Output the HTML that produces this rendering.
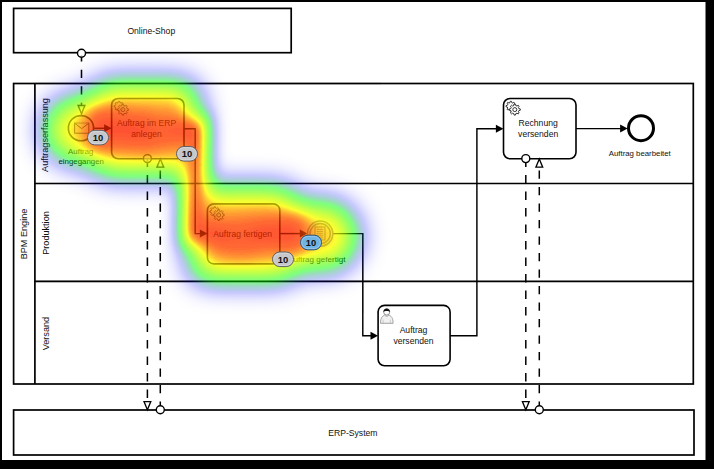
<!DOCTYPE html>
<html><head><meta charset="utf-8"><style>
html,body{margin:0;padding:0;background:#000;}
svg{display:block}
.pool{fill:none;stroke:#000;stroke-width:1.7}
.ln{stroke:#000;stroke-width:1.7}
.task{fill:#fff;stroke:#000;stroke-width:1.6}
.seq{fill:none;stroke:#000;stroke-width:1.45}
.ah{fill:#000}
.dash{stroke:#000;stroke-width:1.5;stroke-dasharray:8.4 8.1}
.tri{fill:#fff;stroke:#000;stroke-width:1.3}
.mcirc{fill:#fff;stroke:#000;stroke-width:1.4}
.ev{fill:#fff;stroke:#000;stroke-width:1.6}
.ev2{fill:none;stroke:#6a6a6a;stroke-width:1.5}
.end{fill:#fff;stroke:#000;stroke-width:3}
.env{fill:#fff;stroke:#222;stroke-width:1.0}
.doc{fill:#f4f4f4;stroke:#555;stroke-width:0.9}
.docl{stroke:#555;stroke-width:0.7}
.gear{fill:#fff;stroke:#2a2a2a;stroke-width:0.95;stroke-linejoin:round}
text{font-family:"Liberation Sans",sans-serif;fill:#111}
.lbl{text-anchor:middle}
.lbl0{font-size:8.6px}
.ov .task,.ov .ev,.ov .mcirc,.ov .tri,.ov .env,.ov .doc,.ov .gear{fill:none}
</style></head><body>
<svg width="714" height="469" viewBox="0 0 714 469">
<defs>
<filter id="blurT" filterUnits="userSpaceOnUse" x="0" y="0" width="714" height="469"><feGaussianBlur stdDeviation="14"/></filter>
<filter id="blurC" filterUnits="userSpaceOnUse" x="0" y="0" width="714" height="469"><feGaussianBlur stdDeviation="8.5"/></filter>
<filter id="heat" filterUnits="userSpaceOnUse" x="0" y="0" width="714" height="469" color-interpolation-filters="sRGB">
<feComponentTransfer in="SourceGraphic"><feFuncA type="linear" slope="0.98" intercept="0"/></feComponentTransfer>
<feColorMatrix type="matrix" values="0 0 0 1 0  0 0 0 1 0  0 0 0 1 0  0 0 0 1 0"/>
<feComponentTransfer>
<feFuncR type="table" tableValues="0.0000 0.0000 0.0000 0.0000 0.0000 0.0000 0.0000 0.0000 0.0000 0.0000 0.0000 0.0000 0.0000 0.0000 0.0000 0.0000 0.0000 0.0000 0.0000 0.0000 0.0000 0.0000 0.0000 0.0000 0.0000 0.0000 0.0000 0.0000 0.0000 0.0000 0.0000 0.0000 0.0000 0.0000 0.0000 0.0000 0.0417 0.0937 0.1458 0.1979 0.2500 0.3021 0.3542 0.4062 0.4583 0.5104 0.5625 0.6146 0.6667 0.7188 0.7708 0.8229 0.8750 0.9271 0.9792 1.0000 1.0000 1.0000 1.0000 1.0000 1.0000 1.0000 1.0000 1.0000 1.0000"/>
<feFuncG type="table" tableValues="0.0000 0.0000 0.0000 0.0000 0.0000 0.0000 0.0000 0.0000 0.0000 0.0000 0.0000 0.0000 0.0000 0.0000 0.0000 0.0000 0.0000 0.0521 0.1042 0.1562 0.2083 0.2604 0.3125 0.3646 0.4167 0.4687 0.5208 0.5729 0.6250 0.6771 0.7292 0.7812 0.8333 0.8854 0.9375 0.9896 1.0000 1.0000 1.0000 1.0000 1.0000 1.0000 1.0000 1.0000 1.0000 1.0000 1.0000 1.0000 1.0000 1.0000 1.0000 1.0000 1.0000 1.0000 1.0000 0.9375 0.8333 0.7292 0.6250 0.5208 0.4167 0.3125 0.2083 0.1042 0.0000"/>
<feFuncB type="table" tableValues="1.0000 1.0000 1.0000 1.0000 1.0000 1.0000 1.0000 1.0000 1.0000 1.0000 1.0000 1.0000 1.0000 1.0000 1.0000 1.0000 1.0000 0.9479 0.8958 0.8438 0.7917 0.7396 0.6875 0.6354 0.5833 0.5312 0.4792 0.4271 0.3750 0.3229 0.2708 0.2188 0.1667 0.1146 0.0625 0.0104 0.0000 0.0000 0.0000 0.0000 0.0000 0.0000 0.0000 0.0000 0.0000 0.0000 0.0000 0.0000 0.0000 0.0000 0.0000 0.0000 0.0000 0.0000 0.0000 0.0000 0.0000 0.0000 0.0000 0.0000 0.0000 0.0000 0.0000 0.0000 0.0000"/>
<feFuncA type="table" tableValues="0.0000 0.0084 0.0186 0.0296 0.0412 0.0533 0.0657 0.0785 0.0915 0.1048 0.1183 0.1320 0.1459 0.1599 0.1742 0.1885 0.2031 0.2177 0.2325 0.2474 0.2625 0.2776 0.2929 0.3082 0.3237 0.3393 0.3549 0.3706 0.3865 0.4024 0.4184 0.4345 0.4506 0.4669 0.4832 0.4995 0.5160 0.5325 0.5491 0.5657 0.5825 0.5992 0.6161 0.6330 0.6499 0.6669 0.6840 0.7011 0.7183 0.7356 0.7529 0.7702 0.7876 0.8000 0.8000 0.8000 0.8000 0.8000 0.8000 0.8000 0.8000 0.8000 0.8000 0.8000 0.8000"/>
</feComponentTransfer>
</filter>
</defs>
<rect x="2" y="2" width="703.5" height="458" fill="#fff"/>
<rect x="13.6" y="8.4" width="277.6" height="44.3" class="pool"/><text x="151.3" y="33.9" text-anchor="middle" class="lbl0">Online-Shop</text><rect x="13.6" y="83.5" width="679.7" height="300.5" class="pool"/><line x1="34.9" y1="83.5" x2="34.9" y2="384" class="ln"/><line x1="34.9" y1="183.5" x2="693.3" y2="183.5" class="ln"/><line x1="34.9" y1="281.3" x2="693.3" y2="281.3" class="ln"/><text transform="translate(26.8,234) rotate(-90)" x="0" y="0" text-anchor="middle" class="lbl0" style="font-size:9.1px">BPM Engine</text><text transform="translate(48.3,135) rotate(-90)" x="0" y="0" text-anchor="middle" class="lbl0" style="font-size:9.1px">Auftragserfassung</text><text transform="translate(48.5,233) rotate(-90)" x="0" y="0" text-anchor="middle" class="lbl0" style="font-size:9.1px">Produktion</text><text transform="translate(48.8,333.6) rotate(-90)" x="0" y="0" text-anchor="middle" class="lbl0" style="font-size:9.1px">Versand</text><rect x="13.6" y="410" width="680.4" height="45" class="pool"/><text x="352.9" y="435.6" text-anchor="middle" class="lbl0">ERP-System</text><path d="M93.6,128.3 H105" class="seq"/><path d="M111.6,128.3 L104.1,124.30000000000001 L104.1,132.3Z" class="ah"/><path d="M184,128.8 H195.2 V233.6 H201" class="seq"/><path d="M207.4,233.6 L199.9,229.6 L199.9,237.6Z" class="ah"/><path d="M279.8,233.6 H301" class="seq"/><path d="M307.3,233.6 L299.8,229.6 L299.8,237.6Z" class="ah"/><path d="M332.7,233.6 H362.8 V335.8 H371" class="seq"/><path d="M378,335.8 L370.5,331.8 L370.5,339.8Z" class="ah"/><path d="M450,335.8 H476.9 V128.8 H497" class="seq"/><path d="M503.4,128.8 L495.9,124.80000000000001 L495.9,132.8Z" class="ah"/><path d="M576,128.6 H621" class="seq"/><path d="M627.6,128.6 L620.1,124.6 L620.1,132.6Z" class="ah"/><circle cx="81" cy="128.2" r="12.6" class="ev"/><rect x="74.6" y="123.2" width="14.2" height="10" class="env"/><path d="M74.6,123.2 L81.7,128.6 L88.8,123.2" class="env"/><text x="80.8" y="154.3" class="lbl" style="font-size:7.9px">Auftrag</text><text x="81.2" y="163.6" class="lbl" style="font-size:7.9px">eingegangen</text><rect x="111.6" y="98.5" width="72.4" height="60.3" rx="6.5" class="task"/><path d="M118.39,101.34 L119.61,101.34 L119.86,102.60 L120.93,103.05 L122.00,102.33 L122.87,103.20 L122.15,104.27 L122.60,105.34 L123.86,105.59 L123.86,106.81 L122.60,107.06 L122.15,108.13 L122.87,109.20 L122.00,110.07 L120.93,109.35 L119.86,109.80 L119.61,111.06 L118.39,111.06 L118.14,109.80 L117.07,109.35 L116.00,110.07 L115.13,109.20 L115.85,108.13 L115.40,107.06 L114.14,106.81 L114.14,105.59 L115.40,105.34 L115.85,104.27 L115.13,103.20 L116.00,102.33 L117.07,103.05 L118.14,102.60Z" class="gear"/><path d="M122.21,104.14 L123.59,104.14 L123.88,105.52 L125.09,106.02 L126.27,105.25 L127.25,106.23 L126.48,107.41 L126.98,108.62 L128.36,108.91 L128.36,110.29 L126.98,110.58 L126.48,111.79 L127.25,112.97 L126.27,113.95 L125.09,113.18 L123.88,113.68 L123.59,115.06 L122.21,115.06 L121.92,113.68 L120.71,113.18 L119.53,113.95 L118.55,112.97 L119.32,111.79 L118.82,110.58 L117.44,110.29 L117.44,108.91 L118.82,108.62 L119.32,107.41 L118.55,106.23 L119.53,105.25 L120.71,106.02 L121.92,105.52Z" class="gear"/><circle cx="122.89999999999999" cy="109.6" r="2.0" class="gear"/><text x="146.60000000000002" y="125.7" class="lbl" style="font-size:8.6px">Auftrag im ERP</text><text x="146.60000000000002" y="136.6" class="lbl" style="font-size:8.6px">anlegen</text><rect x="207.4" y="203.9" width="72.4" height="60.0" rx="6.5" class="task"/><path d="M214.19,206.74 L215.41,206.74 L215.66,208.00 L216.73,208.45 L217.80,207.73 L218.67,208.60 L217.95,209.67 L218.40,210.74 L219.66,210.99 L219.66,212.21 L218.40,212.46 L217.95,213.53 L218.67,214.60 L217.80,215.47 L216.73,214.75 L215.66,215.20 L215.41,216.46 L214.19,216.46 L213.94,215.20 L212.87,214.75 L211.80,215.47 L210.93,214.60 L211.65,213.53 L211.20,212.46 L209.94,212.21 L209.94,210.99 L211.20,210.74 L211.65,209.67 L210.93,208.60 L211.80,207.73 L212.87,208.45 L213.94,208.00Z" class="gear"/><path d="M218.01,209.54 L219.39,209.54 L219.68,210.92 L220.89,211.42 L222.07,210.65 L223.05,211.63 L222.28,212.81 L222.78,214.02 L224.16,214.31 L224.16,215.69 L222.78,215.98 L222.28,217.19 L223.05,218.37 L222.07,219.35 L220.89,218.58 L219.68,219.08 L219.39,220.46 L218.01,220.46 L217.72,219.08 L216.51,218.58 L215.33,219.35 L214.35,218.37 L215.12,217.19 L214.62,215.98 L213.24,215.69 L213.24,214.31 L214.62,214.02 L215.12,212.81 L214.35,211.63 L215.33,210.65 L216.51,211.42 L217.72,210.92Z" class="gear"/><circle cx="218.70000000000002" cy="215.0" r="2.0" class="gear"/><text x="242.70000000000002" y="237.3" class="lbl" style="font-size:8.6px">Auftrag fertigen</text><rect x="378.1" y="305.4" width="72.0" height="60.4" rx="6.5" class="task"/><path d="M380.5,323.29999999999995 C380.5,317.4 382.70000000000005,316.0 384.70000000000005,315.0 C385.70000000000005,316.59999999999997 387.90000000000003,316.59999999999997 388.90000000000003,315.0 C390.90000000000003,316.0 393.1,317.4 393.1,323.29999999999995Z" fill="#f2f2f2" stroke="#8a8a8a" stroke-width="0.8"/><circle cx="386.70000000000005" cy="311.9" r="3.1" fill="#ffffff" stroke="#555" stroke-width="0.6"/><path d="M383.40000000000003,312.2 C383.1,307.09999999999997 390.30000000000007,307.09999999999997 390.00000000000006,312.2 C389.30000000000007,310.5 384.1,310.5 383.40000000000003,312.2Z" fill="#111"/><path d="M383.1,323.29999999999995 V319.59999999999997 M390.3,323.29999999999995 V319.59999999999997" stroke="#b0b0b0" stroke-width="0.6"/><text x="413.5" y="332.9" class="lbl" style="font-size:8.6px">Auftrag</text><text x="413.5" y="343.6" class="lbl" style="font-size:8.6px">versenden</text><rect x="503.5" y="98.5" width="72.5" height="60.3" rx="6.5" class="task"/><path d="M510.29,101.34 L511.51,101.34 L511.76,102.60 L512.83,103.05 L513.90,102.33 L514.77,103.20 L514.05,104.27 L514.50,105.34 L515.76,105.59 L515.76,106.81 L514.50,107.06 L514.05,108.13 L514.77,109.20 L513.90,110.07 L512.83,109.35 L511.76,109.80 L511.51,111.06 L510.29,111.06 L510.04,109.80 L508.97,109.35 L507.90,110.07 L507.03,109.20 L507.75,108.13 L507.30,107.06 L506.04,106.81 L506.04,105.59 L507.30,105.34 L507.75,104.27 L507.03,103.20 L507.90,102.33 L508.97,103.05 L510.04,102.60Z" class="gear"/><path d="M514.11,104.14 L515.49,104.14 L515.78,105.52 L516.99,106.02 L518.17,105.25 L519.15,106.23 L518.38,107.41 L518.88,108.62 L520.26,108.91 L520.26,110.29 L518.88,110.58 L518.38,111.79 L519.15,112.97 L518.17,113.95 L516.99,113.18 L515.78,113.68 L515.49,115.06 L514.11,115.06 L513.82,113.68 L512.61,113.18 L511.43,113.95 L510.45,112.97 L511.22,111.79 L510.72,110.58 L509.34,110.29 L509.34,108.91 L510.72,108.62 L511.22,107.41 L510.45,106.23 L511.43,105.25 L512.61,106.02 L513.82,105.52Z" class="gear"/><circle cx="514.8" cy="109.6" r="2.0" class="gear"/><text x="538.15" y="125.7" class="lbl" style="font-size:8.6px">Rechnung</text><text x="538.15" y="136.6" class="lbl" style="font-size:8.6px">versenden</text><line x1="81.5" y1="53.2" x2="81.5" y2="105.3" class="dash" style="stroke-dashoffset:0"/><path d="M78.1,105.5 L84.9,105.5 L81.5,113.7Z" class="tri"/><circle cx="81.5" cy="53.2" r="4" class="mcirc"/><line x1="147.4" y1="158.6" x2="147.4" y2="401.40000000000003" class="dash" style="stroke-dashoffset:0"/><path d="M144.0,401.6 L150.8,401.6 L147.4,409.8Z" class="tri"/><circle cx="147.4" cy="158.6" r="4" class="mcirc"/><line x1="160.3" y1="409.8" x2="160.3" y2="167.4" class="dash" style="stroke-dashoffset:0"/><path d="M156.9,167.2 L163.70000000000002,167.2 L160.3,159.0Z" class="tri"/><circle cx="160.3" cy="409.8" r="4" class="mcirc"/><line x1="525.8" y1="158.6" x2="525.8" y2="401.40000000000003" class="dash" style="stroke-dashoffset:0"/><path d="M522.4,401.6 L529.1999999999999,401.6 L525.8,409.8Z" class="tri"/><circle cx="525.8" cy="158.6" r="4" class="mcirc"/><line x1="539.3" y1="409.8" x2="539.3" y2="167.4" class="dash" style="stroke-dashoffset:0"/><path d="M535.9,167.2 L542.6999999999999,167.2 L539.3,159.0Z" class="tri"/><circle cx="539.3" cy="409.8" r="4" class="mcirc"/><circle cx="320.2" cy="233.7" r="12.6" class="ev2"/><circle cx="320.2" cy="233.7" r="10.1" class="ev2"/><rect x="315" y="227" width="10" height="13" class="doc"/><line x1="316.8" x2="323.2" y1="229.5" y2="229.5" class="docl"/><line x1="316.8" x2="323.2" y1="231.6" y2="231.6" class="docl"/><line x1="316.8" x2="323.2" y1="233.7" y2="233.7" class="docl"/><line x1="316.8" x2="323.2" y1="235.8" y2="235.8" class="docl"/><line x1="316.8" x2="323.2" y1="237.9" y2="237.9" class="docl"/><text x="316.8" y="262.2" class="lbl" style="font-size:8.1px">Auftrag gefertigt</text><circle cx="641" cy="128.2" r="12.5" class="end"/><text x="639.8" y="156.4" class="lbl" style="font-size:7.8px">Auftrag bearbeitet</text>
<g filter="url(#heat)">
<g filter="url(#blurC)" fill="none" stroke="#000">
<path d="M88,129 H150" stroke-width="36"/>
<path d="M170,128.8 H195.2 V233.6 H230" stroke-width="28"/>
<path d="M250,233.6 H306" stroke-width="34"/>
<ellipse cx="146" cy="132" rx="40" ry="20" fill="#000" fill-opacity="0.85" stroke="none"/>
<ellipse cx="240" cy="237" rx="34" ry="20" fill="#000" fill-opacity="0.85" stroke="none"/>
</g>
<g filter="url(#blurT)" fill="#000">
<circle cx="77" cy="130" r="37" fill-opacity="0.88"/>
<circle cx="323" cy="236" r="39" fill-opacity="0.9"/>
<rect x="88" y="77" width="114" height="103.5" rx="22" fill-opacity="0.92"/>
<rect x="186" y="182.5" width="115.5" height="103" rx="22" fill-opacity="0.92"/>
</g>
</g>
<clipPath id="ovc"><rect x="36" y="55" width="345" height="258"/></clipPath>
<g class="ov" opacity="0.16" clip-path="url(#ovc)"><rect x="13.6" y="8.4" width="277.6" height="44.3" class="pool"/><text x="151.3" y="33.9" text-anchor="middle" class="lbl0">Online-Shop</text><rect x="13.6" y="83.5" width="679.7" height="300.5" class="pool"/><line x1="34.9" y1="83.5" x2="34.9" y2="384" class="ln"/><line x1="34.9" y1="183.5" x2="693.3" y2="183.5" class="ln"/><line x1="34.9" y1="281.3" x2="693.3" y2="281.3" class="ln"/><text transform="translate(26.8,234) rotate(-90)" x="0" y="0" text-anchor="middle" class="lbl0" style="font-size:9.1px">BPM Engine</text><text transform="translate(48.3,135) rotate(-90)" x="0" y="0" text-anchor="middle" class="lbl0" style="font-size:9.1px">Auftragserfassung</text><text transform="translate(48.5,233) rotate(-90)" x="0" y="0" text-anchor="middle" class="lbl0" style="font-size:9.1px">Produktion</text><text transform="translate(48.8,333.6) rotate(-90)" x="0" y="0" text-anchor="middle" class="lbl0" style="font-size:9.1px">Versand</text><rect x="13.6" y="410" width="680.4" height="45" class="pool"/><text x="352.9" y="435.6" text-anchor="middle" class="lbl0">ERP-System</text><path d="M93.6,128.3 H105" class="seq"/><path d="M111.6,128.3 L104.1,124.30000000000001 L104.1,132.3Z" class="ah"/><path d="M184,128.8 H195.2 V233.6 H201" class="seq"/><path d="M207.4,233.6 L199.9,229.6 L199.9,237.6Z" class="ah"/><path d="M279.8,233.6 H301" class="seq"/><path d="M307.3,233.6 L299.8,229.6 L299.8,237.6Z" class="ah"/><path d="M332.7,233.6 H362.8 V335.8 H371" class="seq"/><path d="M378,335.8 L370.5,331.8 L370.5,339.8Z" class="ah"/><path d="M450,335.8 H476.9 V128.8 H497" class="seq"/><path d="M503.4,128.8 L495.9,124.80000000000001 L495.9,132.8Z" class="ah"/><path d="M576,128.6 H621" class="seq"/><path d="M627.6,128.6 L620.1,124.6 L620.1,132.6Z" class="ah"/><circle cx="81" cy="128.2" r="12.6" class="ev"/><rect x="74.6" y="123.2" width="14.2" height="10" class="env"/><path d="M74.6,123.2 L81.7,128.6 L88.8,123.2" class="env"/><text x="80.8" y="154.3" class="lbl" style="font-size:7.9px">Auftrag</text><text x="81.2" y="163.6" class="lbl" style="font-size:7.9px">eingegangen</text><rect x="111.6" y="98.5" width="72.4" height="60.3" rx="6.5" class="task"/><path d="M118.39,101.34 L119.61,101.34 L119.86,102.60 L120.93,103.05 L122.00,102.33 L122.87,103.20 L122.15,104.27 L122.60,105.34 L123.86,105.59 L123.86,106.81 L122.60,107.06 L122.15,108.13 L122.87,109.20 L122.00,110.07 L120.93,109.35 L119.86,109.80 L119.61,111.06 L118.39,111.06 L118.14,109.80 L117.07,109.35 L116.00,110.07 L115.13,109.20 L115.85,108.13 L115.40,107.06 L114.14,106.81 L114.14,105.59 L115.40,105.34 L115.85,104.27 L115.13,103.20 L116.00,102.33 L117.07,103.05 L118.14,102.60Z" class="gear"/><path d="M122.21,104.14 L123.59,104.14 L123.88,105.52 L125.09,106.02 L126.27,105.25 L127.25,106.23 L126.48,107.41 L126.98,108.62 L128.36,108.91 L128.36,110.29 L126.98,110.58 L126.48,111.79 L127.25,112.97 L126.27,113.95 L125.09,113.18 L123.88,113.68 L123.59,115.06 L122.21,115.06 L121.92,113.68 L120.71,113.18 L119.53,113.95 L118.55,112.97 L119.32,111.79 L118.82,110.58 L117.44,110.29 L117.44,108.91 L118.82,108.62 L119.32,107.41 L118.55,106.23 L119.53,105.25 L120.71,106.02 L121.92,105.52Z" class="gear"/><circle cx="122.89999999999999" cy="109.6" r="2.0" class="gear"/><text x="146.60000000000002" y="125.7" class="lbl" style="font-size:8.6px">Auftrag im ERP</text><text x="146.60000000000002" y="136.6" class="lbl" style="font-size:8.6px">anlegen</text><rect x="207.4" y="203.9" width="72.4" height="60.0" rx="6.5" class="task"/><path d="M214.19,206.74 L215.41,206.74 L215.66,208.00 L216.73,208.45 L217.80,207.73 L218.67,208.60 L217.95,209.67 L218.40,210.74 L219.66,210.99 L219.66,212.21 L218.40,212.46 L217.95,213.53 L218.67,214.60 L217.80,215.47 L216.73,214.75 L215.66,215.20 L215.41,216.46 L214.19,216.46 L213.94,215.20 L212.87,214.75 L211.80,215.47 L210.93,214.60 L211.65,213.53 L211.20,212.46 L209.94,212.21 L209.94,210.99 L211.20,210.74 L211.65,209.67 L210.93,208.60 L211.80,207.73 L212.87,208.45 L213.94,208.00Z" class="gear"/><path d="M218.01,209.54 L219.39,209.54 L219.68,210.92 L220.89,211.42 L222.07,210.65 L223.05,211.63 L222.28,212.81 L222.78,214.02 L224.16,214.31 L224.16,215.69 L222.78,215.98 L222.28,217.19 L223.05,218.37 L222.07,219.35 L220.89,218.58 L219.68,219.08 L219.39,220.46 L218.01,220.46 L217.72,219.08 L216.51,218.58 L215.33,219.35 L214.35,218.37 L215.12,217.19 L214.62,215.98 L213.24,215.69 L213.24,214.31 L214.62,214.02 L215.12,212.81 L214.35,211.63 L215.33,210.65 L216.51,211.42 L217.72,210.92Z" class="gear"/><circle cx="218.70000000000002" cy="215.0" r="2.0" class="gear"/><text x="242.70000000000002" y="237.3" class="lbl" style="font-size:8.6px">Auftrag fertigen</text><rect x="378.1" y="305.4" width="72.0" height="60.4" rx="6.5" class="task"/><path d="M380.5,323.29999999999995 C380.5,317.4 382.70000000000005,316.0 384.70000000000005,315.0 C385.70000000000005,316.59999999999997 387.90000000000003,316.59999999999997 388.90000000000003,315.0 C390.90000000000003,316.0 393.1,317.4 393.1,323.29999999999995Z" fill="#f2f2f2" stroke="#8a8a8a" stroke-width="0.8"/><circle cx="386.70000000000005" cy="311.9" r="3.1" fill="#ffffff" stroke="#555" stroke-width="0.6"/><path d="M383.40000000000003,312.2 C383.1,307.09999999999997 390.30000000000007,307.09999999999997 390.00000000000006,312.2 C389.30000000000007,310.5 384.1,310.5 383.40000000000003,312.2Z" fill="#111"/><path d="M383.1,323.29999999999995 V319.59999999999997 M390.3,323.29999999999995 V319.59999999999997" stroke="#b0b0b0" stroke-width="0.6"/><text x="413.5" y="332.9" class="lbl" style="font-size:8.6px">Auftrag</text><text x="413.5" y="343.6" class="lbl" style="font-size:8.6px">versenden</text><rect x="503.5" y="98.5" width="72.5" height="60.3" rx="6.5" class="task"/><path d="M510.29,101.34 L511.51,101.34 L511.76,102.60 L512.83,103.05 L513.90,102.33 L514.77,103.20 L514.05,104.27 L514.50,105.34 L515.76,105.59 L515.76,106.81 L514.50,107.06 L514.05,108.13 L514.77,109.20 L513.90,110.07 L512.83,109.35 L511.76,109.80 L511.51,111.06 L510.29,111.06 L510.04,109.80 L508.97,109.35 L507.90,110.07 L507.03,109.20 L507.75,108.13 L507.30,107.06 L506.04,106.81 L506.04,105.59 L507.30,105.34 L507.75,104.27 L507.03,103.20 L507.90,102.33 L508.97,103.05 L510.04,102.60Z" class="gear"/><path d="M514.11,104.14 L515.49,104.14 L515.78,105.52 L516.99,106.02 L518.17,105.25 L519.15,106.23 L518.38,107.41 L518.88,108.62 L520.26,108.91 L520.26,110.29 L518.88,110.58 L518.38,111.79 L519.15,112.97 L518.17,113.95 L516.99,113.18 L515.78,113.68 L515.49,115.06 L514.11,115.06 L513.82,113.68 L512.61,113.18 L511.43,113.95 L510.45,112.97 L511.22,111.79 L510.72,110.58 L509.34,110.29 L509.34,108.91 L510.72,108.62 L511.22,107.41 L510.45,106.23 L511.43,105.25 L512.61,106.02 L513.82,105.52Z" class="gear"/><circle cx="514.8" cy="109.6" r="2.0" class="gear"/><text x="538.15" y="125.7" class="lbl" style="font-size:8.6px">Rechnung</text><text x="538.15" y="136.6" class="lbl" style="font-size:8.6px">versenden</text><line x1="81.5" y1="53.2" x2="81.5" y2="105.3" class="dash" style="stroke-dashoffset:0"/><path d="M78.1,105.5 L84.9,105.5 L81.5,113.7Z" class="tri"/><circle cx="81.5" cy="53.2" r="4" class="mcirc"/><line x1="147.4" y1="158.6" x2="147.4" y2="401.40000000000003" class="dash" style="stroke-dashoffset:0"/><path d="M144.0,401.6 L150.8,401.6 L147.4,409.8Z" class="tri"/><circle cx="147.4" cy="158.6" r="4" class="mcirc"/><line x1="160.3" y1="409.8" x2="160.3" y2="167.4" class="dash" style="stroke-dashoffset:0"/><path d="M156.9,167.2 L163.70000000000002,167.2 L160.3,159.0Z" class="tri"/><circle cx="160.3" cy="409.8" r="4" class="mcirc"/><line x1="525.8" y1="158.6" x2="525.8" y2="401.40000000000003" class="dash" style="stroke-dashoffset:0"/><path d="M522.4,401.6 L529.1999999999999,401.6 L525.8,409.8Z" class="tri"/><circle cx="525.8" cy="158.6" r="4" class="mcirc"/><line x1="539.3" y1="409.8" x2="539.3" y2="167.4" class="dash" style="stroke-dashoffset:0"/><path d="M535.9,167.2 L542.6999999999999,167.2 L539.3,159.0Z" class="tri"/><circle cx="539.3" cy="409.8" r="4" class="mcirc"/><circle cx="320.2" cy="233.7" r="12.6" class="ev2"/><circle cx="320.2" cy="233.7" r="10.1" class="ev2"/><rect x="315" y="227" width="10" height="13" class="doc"/><line x1="316.8" x2="323.2" y1="229.5" y2="229.5" class="docl"/><line x1="316.8" x2="323.2" y1="231.6" y2="231.6" class="docl"/><line x1="316.8" x2="323.2" y1="233.7" y2="233.7" class="docl"/><line x1="316.8" x2="323.2" y1="235.8" y2="235.8" class="docl"/><line x1="316.8" x2="323.2" y1="237.9" y2="237.9" class="docl"/><text x="316.8" y="262.2" class="lbl" style="font-size:8.1px">Auftrag gefertigt</text><circle cx="641" cy="128.2" r="12.5" class="end"/><text x="639.8" y="156.4" class="lbl" style="font-size:7.8px">Auftrag bearbeitet</text></g>
<rect x="87.5" y="130.29999999999998" width="21" height="14.6" rx="7.3" fill="#c6c7ca" stroke="#5e5f64" stroke-width="1"/><rect x="88.7" y="131.49999999999997" width="18.6" height="12.2" rx="6.1" fill="none" stroke="#ffffff" stroke-opacity="0.35" stroke-width="0.8"/><text x="98" y="141.0" text-anchor="middle" style="font-weight:bold;font-size:9.4px" fill="#444444">10</text><rect x="176.5" y="146.5" width="21" height="14.6" rx="7.3" fill="#c6c7ca" stroke="#5e5f64" stroke-width="1"/><rect x="177.7" y="147.7" width="18.6" height="12.2" rx="6.1" fill="none" stroke="#ffffff" stroke-opacity="0.35" stroke-width="0.8"/><text x="187" y="157.20000000000002" text-anchor="middle" style="font-weight:bold;font-size:9.4px" fill="#444444">10</text><rect x="272.5" y="252.0" width="21" height="14.6" rx="7.3" fill="#c6c7ca" stroke="#5e5f64" stroke-width="1"/><rect x="273.7" y="253.2" width="18.6" height="12.2" rx="6.1" fill="none" stroke="#ffffff" stroke-opacity="0.35" stroke-width="0.8"/><text x="283" y="262.7" text-anchor="middle" style="font-weight:bold;font-size:9.4px" fill="#444444">10</text><rect x="300.5" y="235.2" width="21" height="14.6" rx="7.3" fill="#6fb4e2" stroke="#2a5478" stroke-width="1"/><rect x="301.7" y="236.39999999999998" width="18.6" height="12.2" rx="6.1" fill="none" stroke="#ffffff" stroke-opacity="0.35" stroke-width="0.8"/><text x="311" y="245.9" text-anchor="middle" style="font-weight:bold;font-size:9.4px" fill="#22354a">10</text>
</svg>
</body></html>
